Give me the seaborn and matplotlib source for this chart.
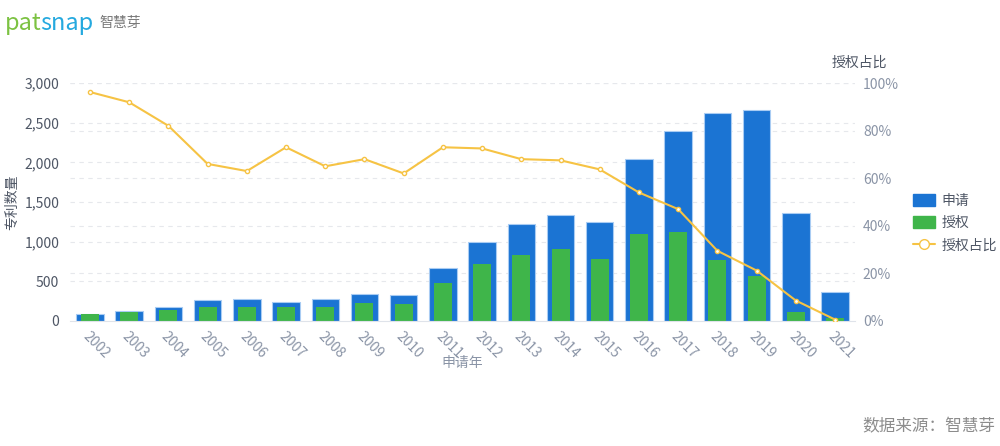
import matplotlib
matplotlib.use("Agg")
import matplotlib.pyplot as plt
import pandas as pd
import seaborn as sns
from matplotlib.lines import Line2D
from matplotlib.patches import Patch

years = [str(y) for y in range(2002, 2022)]
applied = [92, 126, 176, 265, 277, 244, 281, 340, 332, 668,
           995, 1222, 1336, 1247, 2038, 2394, 2625, 2663, 1357, 361]
granted = [88, 110, 142, 176, 176, 176, 180, 231, 210, 483,
           718, 832, 907, 785, 1092, 1117, 769, 567, 113, 42]
grant_ratio = [0.962, 0.919, 0.82, 0.66, 0.63, 0.73, 0.65, 0.68, 0.62, 0.73,
               0.725, 0.68, 0.675, 0.637, 0.54, 0.47, 0.295, 0.212, 0.086, 0.006]

left_ticks = [0, 500, 1000, 1500, 2000, 2500, 3000]
right_ticks = [0, 0.2, 0.4, 0.6, 0.8, 1.0]

BLUE = "#1b74d3"
GREEN = "#3fb54a"
YELLOW = "#f6c344"
GRAY = "#8a94a6"
DARK = "#4e5665"

df = pd.DataFrame({"year": years, "applied": applied,
                   "granted": granted, "ratio": grant_ratio})

sns.set_style("white")
plt.rcParams["font.family"] = ["Noto Sans CJK SC", "DejaVu Sans"]

fig = plt.figure(figsize=(10, 4.46), dpi=100)
ax = fig.add_axes([0.0704, 0.2803, 0.7842, 0.5336])

# dashed grid for both axes, kept behind the bars
for v in left_ticks[1:]:
    ax.axhline(v, color="#e6e8ec", lw=0.8, ls=(0, (4, 4)), zorder=0)
for v in right_ticks[1:]:
    ax.axhline(v * 3000, color="#e6e8ec", lw=0.8, ls=(0, (4, 4)), zorder=0)

sns.barplot(data=df, x="year", y="applied", color=BLUE, width=0.7,
            edgecolor="#a9ccf3", linewidth=0.8, saturation=1, ax=ax)
sns.barplot(data=df, x="year", y="granted", color=GREEN, width=0.46,
            linewidth=0, saturation=1, ax=ax)

ax.set_ylim(0, 3000)
ax.set_yticks(left_ticks)
ax.set_yticklabels([f"{v:,}" for v in left_ticks], color=DARK, fontsize=10)
ax.set_xlim(-0.5, len(years) - 0.5)

ax.tick_params(axis="x", length=0, pad=6)
ax.tick_params(axis="y", length=0, pad=8)
plt.setp(ax.get_xticklabels(), rotation=-45, ha="left", rotation_mode="anchor",
         color=GRAY, fontsize=10)
ax.set_xlabel("申请年", color=GRAY, fontsize=10, labelpad=-4)
ax.set_ylabel("专利数量", color=DARK, fontsize=10, labelpad=4)
for s in ["top", "right", "left"]:
    ax.spines[s].set_visible(False)
ax.spines["bottom"].set_color("#dfe3ea")

ax2 = ax.twinx()
sns.pointplot(data=df, x="year", y="ratio", color=YELLOW, markers="o",
              markersize=3, linewidth=1.5, markerfacecolor="white",
              markeredgecolor=YELLOW, markeredgewidth=1, ax=ax2)
ax2.set_xlim(-0.5, len(years) - 0.5)
ax2.set_ylim(0, 1)
ax2.set_yticks(right_ticks)
ax2.set_yticklabels([f"{int(v * 100)}%" for v in right_ticks], color=GRAY, fontsize=10)
ax2.set_ylabel("")
ax2.set_xlabel("")
ax2.grid(False)
ax2.tick_params(axis="y", length=0, pad=6)
for s in ["top", "right", "left", "bottom"]:
    ax2.spines[s].set_visible(False)
fig.text(0.832, 0.86, "授权占比", color=DARK, fontsize=10, ha="left", va="center")

handles = [Patch(facecolor=BLUE, edgecolor=BLUE, label="申请"),
           Patch(facecolor=GREEN, edgecolor=GREEN, label="授权"),
           Line2D([0], [0], color=YELLOW, marker="o", markersize=7,
                  markerfacecolor="white", markeredgecolor=YELLOW, label="授权占比")]
fig.legend(handles=handles, loc="center left", bbox_to_anchor=(0.9, 0.5),
           frameon=False, fontsize=10, handlelength=1.6, handleheight=0.9,
           labelspacing=0.6, handletextpad=0.5, labelcolor=DARK)

# logo: place each piece right after the previous one
renderer = fig.canvas.get_renderer()
t_pat = fig.text(0.005, 0.948, "pat", color="#7cc242", fontsize=17,
                 ha="left", va="center")
x_next = t_pat.get_window_extent(renderer).x1 / fig.bbox.width - 0.002
t_snap = fig.text(x_next, 0.948, "snap", color="#25a9df", fontsize=17,
                  ha="left", va="center")
x_next = t_snap.get_window_extent(renderer).x1 / fig.bbox.width + 0.006
fig.text(x_next, 0.948, "智慧芽", color="#777777", fontsize=10,
         ha="left", va="center")
fig.text(0.995, 0.042, "数据来源：智慧芽", color="#8c8c8c", fontsize=12,
         ha="right", va="center")

fig.savefig("out.png", dpi=100)
